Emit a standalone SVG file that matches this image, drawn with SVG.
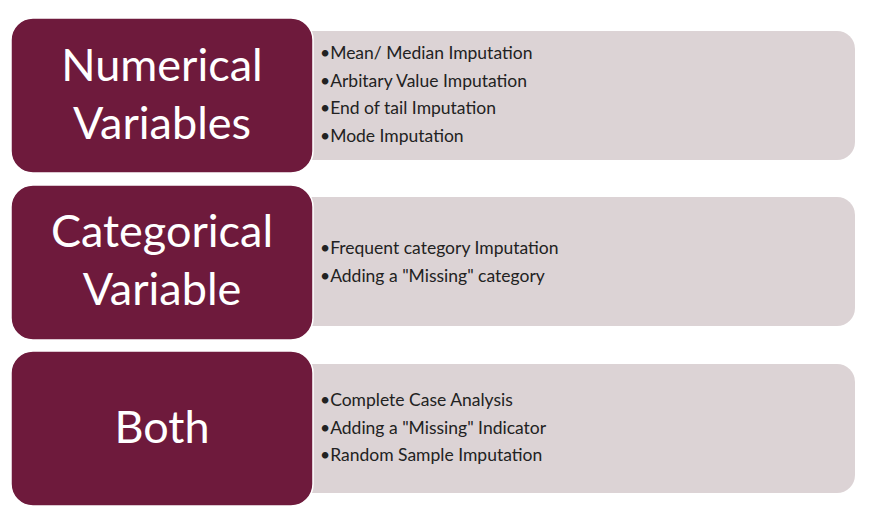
<svg xmlns="http://www.w3.org/2000/svg" width="874" height="517" viewBox="0 0 874 517">
<style>
.g{fill:#dcd3d5;}
.m{fill:#6e1a3c;stroke:#fff;stroke-width:1.5;}
.t{font-family:Lato,"Open Sans",sans-serif;font-size:45px;fill:#fff;text-anchor:middle;}
.b{font-family:Lato,"Open Sans",sans-serif;font-size:17.5px;fill:#222;}
</style>
<rect width="874" height="517" fill="#fff"/>
<g id="numerical">
<rect class="g" x="280" y="31" width="575" height="129" rx="18"/>
<rect class="m" x="11" y="18" width="302" height="155" rx="22"/>
<text class="t" x="162" y="81">Numerical</text>
<text class="t" x="162" y="139">Variables</text>
<text class="b" x="320" y="59">•Mean/ Median Imputation</text>
<text class="b" x="320" y="87">•Arbitary Value Imputation</text>
<text class="b" x="320" y="114">•End of tail Imputation</text>
<text class="b" x="320" y="142">•Mode Imputation</text>
</g>
<g id="categorical">
<rect class="g" x="280" y="197" width="575" height="129" rx="18"/>
<rect class="m" x="11" y="185" width="302" height="155" rx="22"/>
<text class="t" x="162" y="247">Categorical</text>
<text class="t" x="162" y="305">Variable</text>
<text class="b" x="320" y="254">•Frequent category Imputation</text>
<text class="b" x="320" y="282">•Adding a "Missing" category</text>
</g>
<g id="both">
<rect class="g" x="280" y="364" width="575" height="129" rx="18"/>
<rect class="m" x="11" y="351" width="302" height="155" rx="22"/>
<text class="t" x="162" y="443">Both</text>
<text class="b" x="320" y="406">•Complete Case Analysis</text>
<text class="b" x="320" y="434">•Adding a "Missing" Indicator</text>
<text class="b" x="320" y="461">•Random Sample Imputation</text>
</g>
<g id="connectors"></g>
</svg>
